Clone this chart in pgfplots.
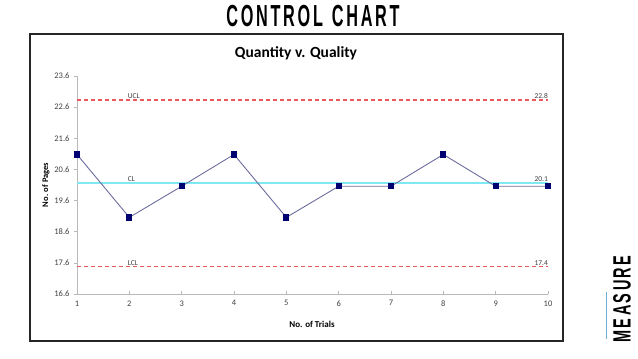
\documentclass[border=0pt]{standalone}
\usepackage{pgfplots}
\pgfplotsset{compat=1.18}
\usepackage{fontspec}
\setmainfont{Carlito}
\newfontfamily\headfont{Liberation Sans}
\definecolor{redline}{HTML}{E8585C}
\definecolor{cyanline}{HTML}{7FE8F2}
\definecolor{dline}{HTML}{6C6C9E}
\definecolor{dmark}{HTML}{000070}
\definecolor{txt}{HTML}{404040}
\definecolor{bluebar}{HTML}{6AAED6}
\begin{document}
\begin{tikzpicture}[x=1pt,y=1pt]
\path[use as bounding box] (0,0) rectangle (638,359);
\draw[line width=1.6pt, black!85] (30,18) rectangle (563,325);
\node at (313,343) {\scalebox{0.56}[1.05]{\headfont\bfseries\fontsize{29}{29}\selectfont C\,O\,N\,T\,R\,O\,L\ \ C\,H\,A\,R\,T}};
\node[rotate=90] at (622,60) {\scalebox{0.58}[1]{\headfont\bfseries\fontsize{25}{25}\selectfont M\,E\,A\,S\,U\,R\,E}};
\draw[bluebar, line width=1pt] (606,20) -- (606,67);
\begin{axis}[
  at={(77pt,65pt)}, anchor=south west, scale only axis,
  width=471pt, height=218pt,
  xmin=1, xmax=10, ymin=16.6, ymax=23.6,
  xtick={1,2,3,4,5,6,7,8,9,10},
  xticklabels={1,2,3,4,5,6,7,8,9,10},
  ytick={16.6,17.6,18.6,19.6,20.6,21.6,22.6,23.6},
  yticklabels={16.6,17.6,18.6,19.6,20.6,21.6,22.6,23.6},
  axis x line*=bottom, axis y line*=left,
  axis line style={gray!55, line width=0.7pt, -},
  major tick length=3pt,
  tick style={gray!55, line width=0.6pt},
  ytick align=outside, xtick align=inside,
  tick label style={font=\fontsize{8.5}{9}\selectfont, text=txt},
  xticklabel style={yshift=-3pt},
  yticklabel style={xshift=-1pt},
  clip=false,
]
\addplot[draw=redline, dash pattern=on 4pt off 3pt, line width=1.3pt, mark=none] coordinates {(1,17.49) (10,17.49)};
\addplot[draw=redline, dash pattern=on 4pt off 3pt, line width=1.3pt, mark=none] coordinates {(1,22.83) (10,22.83)};
\addplot[draw=cyanline, line width=2pt, mark=none] coordinates {(1,20.16) (10,20.16)};
\addplot[dline, line width=0.9pt, mark=square*, mark size=2.6pt, mark options={fill=dmark, draw=dmark}] coordinates {
(1,21.08) (2,19.06) (3,20.06) (4,21.08) (5,19.06) (6,20.06) (7,20.06) (8,21.08) (9,20.06) (10,20.06)};
\node[anchor=south west, inner sep=1pt, font=\fontsize{7.5}{8}\selectfont, text=txt] at (axis cs:1.95,22.83) {UCL};
\node[anchor=south west, inner sep=1pt, font=\fontsize{7.5}{8}\selectfont, text=txt] at (axis cs:1.95,20.16) {CL};
\node[anchor=south west, inner sep=1pt, font=\fontsize{7.5}{8}\selectfont, text=txt] at (axis cs:1.95,17.49) {LCL};
\node[anchor=south east, inner sep=1pt, font=\fontsize{7.5}{8}\selectfont, text=txt] at (axis cs:10.02,22.83) {22.8};
\node[anchor=south east, inner sep=1pt, font=\fontsize{7.5}{8}\selectfont, text=txt] at (axis cs:10.02,20.16) {20.1};
\node[anchor=south east, inner sep=1pt, font=\fontsize{7.5}{8}\selectfont, text=txt] at (axis cs:10.02,17.49) {17.4};
\end{axis}
\node[font=\bfseries\fontsize{15.5}{16}\selectfont] at (296,306) {Quantity v. Quality};
\node[rotate=90, font=\bfseries\fontsize{8.5}{9}\selectfont] at (46,174) {No. of Pages};
\node[font=\bfseries\fontsize{9}{10}\selectfont] at (312,35) {No. of Trials};
\end{tikzpicture}
\end{document}
